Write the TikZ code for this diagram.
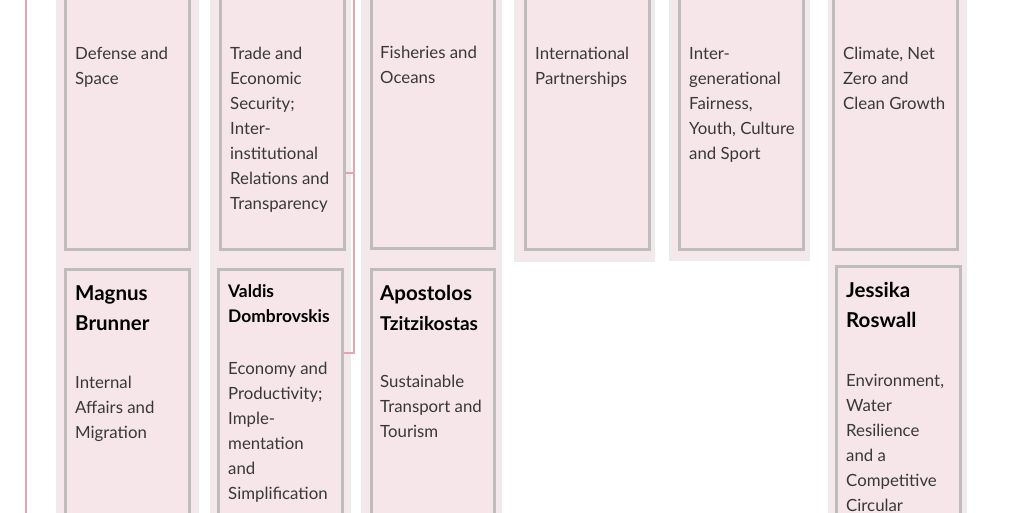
\documentclass[tikz,border=0pt]{standalone}
\usepackage{fontspec}
\setmainfont{Lato}
\definecolor{panelfill}{HTML}{F5E7EA}
\definecolor{panelline}{HTML}{EEEBEC}
\definecolor{boxfill}{HTML}{F6E6EA}
\definecolor{boxline}{HTML}{BEBCBC}
\definecolor{linkpink}{HTML}{E8A2B0}
\definecolor{desc}{HTML}{383838}
\tikzset{
  panel/.style={fill=panelfill, draw=panelline, line width=3pt},
  card/.style={draw=boxline, fill=boxfill, line width=3pt},
  conn/.style={draw=linkpink, line width=2.8pt},
  desctext/.style={anchor=base west, inner sep=0pt, text=desc, font=\fontsize{16.8}{25}\selectfont},
  bigname/.style={anchor=base west, inner sep=0pt, text=black, font=\bfseries\fontsize{20.5}{30}\selectfont},
  smallname/.style={anchor=base west, inner sep=0pt, text=black, font=\bfseries\fontsize{17.4}{25}\selectfont},
}
\newcommand{\lines}[1]{\parbox[t]{130pt}{\raggedright #1}}
\begin{document}
\begin{tikzpicture}[x=1pt,y=-1pt]
\useasboundingbox (0,0) rectangle (1024,512);
\fill[white] (0,0) rectangle (1024,512);
% panels
\draw[panel] (57,-20) rectangle (197,540);
\draw[panel] (211,-20) rectangle (349,540);
\draw[panel] (362,-20) rectangle (500,540);
\draw[panel] (515,-20) rectangle (653,260);
\draw[panel] (670,-20) rectangle (808,259);
\draw[panel] (829,-20) rectangle (965,540);
% top cards
\draw[card] (65.5,-20) rectangle (189,249.5) node[pos=0.5] (c1t) {};
\draw[card] (220,-20) rectangle (344,249.5) node[pos=0.5] (c2t) {};
\draw[card] (371,-20) rectangle (494,248.5) node[pos=0.5] (c3t) {};
\draw[card] (525.5,-20) rectangle (649,249.5) node[pos=0.5] (c4t) {};
\draw[card] (679.5,-20) rectangle (803,249.5) node[pos=0.5] (c5t) {};
\draw[card] (833.5,-20) rectangle (957,249.5) node[pos=0.5] (c6t) {};
% bottom cards
\draw[card] (65.5,269.5) rectangle (189,540) node[pos=0.5] (c1b) {};
\draw[card] (218.5,269.5) rectangle (342,540) node[pos=0.5] (c2b) {};
\draw[card] (371,269.5) rectangle (494,540) node[pos=0.5] (c3b) {};
\draw[card] (836.5,266.5) rectangle (960,540) node[pos=0.5] (c6b) {};
% connectors
\coordinate (leftrail top) at (26,-20);
\coordinate (leftrail bot) at (26,540);
\draw[conn] (leftrail top) -- (leftrail bot);
\coordinate (trunk) at (354,-20);
\coordinate (tstub) at (345.5,173);
\coordinate (bstub) at (343.5,353);
\draw[conn] (tstub) -| (trunk);
\draw[conn] (bstub) -| (trunk);
% top texts
\node[desctext] (t1) at (75,59) {\lines{Defense and\\Space}};
\node[desctext] (t2) at (230,59) {\lines{Trade and\\Economic\\Security;\\Inter-\\institutional\\Relations and\\Transparency}};
\node[desctext] (t3) at (380,58) {\lines{Fisheries and\\Oceans}};
\node[desctext] (t4) at (535,59) {\lines{International\\Partnerships}};
\node[desctext] (t5) at (689,59) {\lines{Inter-\\generational\\Fairness,\\Youth, Culture\\and Sport}};
\node[desctext] (t6) at (843,59) {\lines{Climate, Net\\Zero and\\Clean Growth}};
% bottom names
\node[bigname] (n1) at (75,300) {\lines{Magnus\\Brunner}};
\node[smallname] (n2) at (228,297) {\lines{Valdis\\Dombrovskis}};
\node[bigname] (n3a) at (380,300) {Apostolos};
\node[smallname, font=\bfseries\fontsize{19}{25}\selectfont] (n3b) at (380,330) {Tzitzikostas};
\node[bigname] (n6) at (846,297) {\lines{Jessika\\Roswall}};
% bottom texts
\node[desctext] (b1) at (75,388) {\lines{Internal\\Affairs and\\Migration}};
\node[desctext] (b2) at (228,374) {\lines{Economy and\\Productivity;\\Imple-\\mentation\\and\\Simplification}};
\node[desctext] (b3) at (380,387) {\lines{Sustainable\\Transport and\\Tourism}};
\node[desctext] (b6) at (846,386) {\lines{Environment,\\Water\\Resilience\\and a\\Competitive\\Circular}};
\end{tikzpicture}
\end{document}
